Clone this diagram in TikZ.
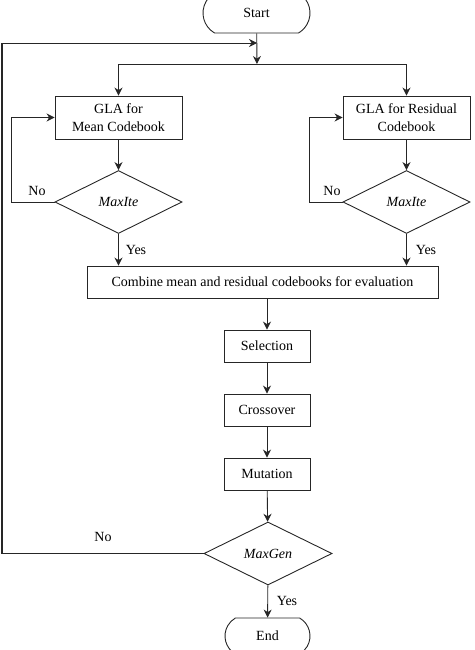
\documentclass[tikz,border=0pt]{standalone}
\usepackage{fontspec}
\setmainfont{Liberation Serif}
\usetikzlibrary{arrows.meta,shapes.geometric,shapes.misc}
\begin{document}
\begin{tikzpicture}[x=1pt,y=-1pt,font=\fontsize{14}{18}\selectfont,
  box/.style={draw=black!85,line width=0.9pt,inner sep=0pt,minimum height=32,align=center},
  term/.style={box,rounded rectangle,rounded rectangle arc length=120,minimum height=36},
  dec/.style={diamond,draw=black!85,line width=0.9pt,inner sep=0pt,minimum width=127,minimum height=63,font=\fontsize{14}{18}\selectfont\itshape},
  arr/.style={draw=black!85,line width=0.9pt,-{Stealth[length=8pt,width=8pt]}}]
\useasboundingbox (0,0) rectangle (474,650);
\node[term,minimum width=107,minimum height=40] (start) at (256.5,13) {Start};
\coordinate (split) at (257,64);
\coordinate (back) at (257,43);
\node[box,minimum width=127,minimum height=43] (glaM) at (118.5,117.5) {GLA for\\Mean Codebook};
\node[box,minimum width=127,minimum height=43] (glaR) at (406.5,117.5) {GLA for Residual\\Codebook};
\node[dec] (iteM) at (118.5,202) {MaxIte};
\node[dec] (iteR) at (406.5,202) {MaxIte};
\node[box,minimum width=351] (comb) at (262.5,282) {Combine mean and residual codebooks for evaluation};
\node[box,minimum width=86] (sel) at (267,346) {Selection};
\node[box,minimum width=86] (cross) at (267,410) {Crossover};
\node[box,minimum width=86] (mut) at (267,474) {Mutation};
\node[dec,minimum width=128] (gen) at (268,553.5) {MaxGen};
\node[term,minimum width=85] (end) at (267.5,636) {End};
\draw[arr] (start) -- (split);
\draw[arr] (split) -| (glaM);
\draw[arr] (split) -| (glaR);
\draw[arr] (glaM) -- (iteM);
\draw[arr] (glaR) -- (iteR);
\draw[arr] (iteM.west) -- ++(-43,0) |- (glaM.west);
\draw[arr] (iteR.west) -- ++(-33,0) |- (glaR.west);
\draw[arr] (iteM) -- (iteM |- comb.north);
\draw[arr] (iteR) -- (iteR |- comb.north);
\draw[arr] (comb.south -| sel) -- (sel);
\draw[arr] (sel) -- (cross);
\draw[arr] (cross) -- (mut);
\draw[arr] (mut) -- (gen);
\draw[arr] (gen) -- (end);
\draw[arr] (gen.west) -- ++(-202,0) |- (back);
\draw[draw=black!85,line width=2.5pt] (2,553.5) -- (2,43);
\node (noM) at (37,191) {No};
\node (noR) at (332,191) {No};
\node (yesM) at (136,250) {Yes};
\node (yesR) at (426,250) {Yes};
\node (noG) at (103,537) {No};
\node (yesG) at (287,601) {Yes};
\end{tikzpicture}
\end{document}
